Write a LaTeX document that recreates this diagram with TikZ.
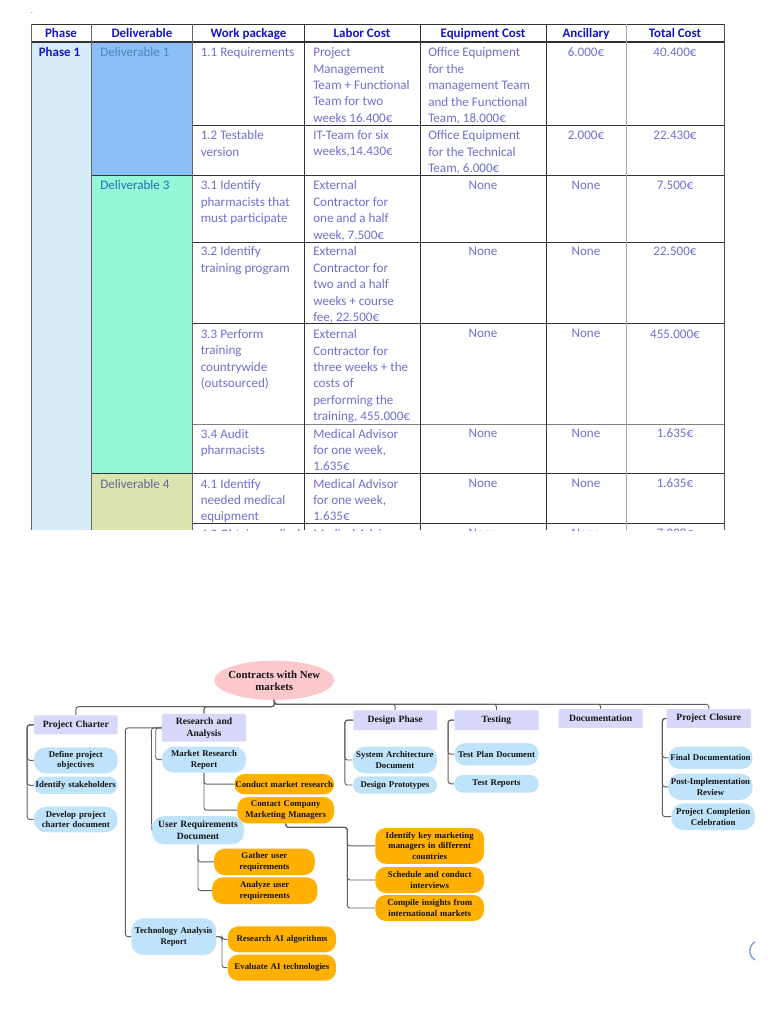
\documentclass[tikz,border=0pt]{standalone}
\usepackage{fontspec}
\setmainfont{Carlito}
\newfontfamily\mapfont{Liberation Serif}[Scale=1]
\usetikzlibrary{shapes.geometric}

\definecolor{headblue}{HTML}{1414C8}
\definecolor{cellblue}{HTML}{7070CC}
\definecolor{phasefill}{HTML}{D6ECF8}
\definecolor{delone}{HTML}{8CC0F4}
\definecolor{delthree}{HTML}{94F7D8}
\definecolor{delfour}{HTML}{DBE4B0}
\definecolor{rootpink}{HTML}{FCC8CC}
\definecolor{lavender}{HTML}{D8D8FA}
\definecolor{skyfill}{HTML}{BFE3FB}
\definecolor{amber}{HTML}{FFB000}
\definecolor{linegray}{HTML}{606060}

\tikzset{
    head/.style={font=\fontsize{9.7}{12}\selectfont\bfseries, text=headblue, inner sep=0pt, anchor=base},
    cell/.style={font=\fontsize{9.8}{12.3}\selectfont, text=cellblue, anchor=north west, align=left, inner sep=0pt},
    mid/.style={font=\fontsize{9.8}{12.3}\selectfont, text=cellblue, anchor=north, inner sep=0pt},
    grid/.style={draw=black!80, line width=0.6pt},
    box/.style={minimum width=#1*0.75pt, text width=#1*0.75pt, align=center, inner sep=0pt, text=black!92,
        font=\mapfont\fontsize{6.6}{8}\selectfont\bfseries},
    task/.style={box=#1, fill=lavender, rounded corners=0.8pt, font=\mapfont\fontsize{7.2}{9}\selectfont\bfseries},
    doc/.style={box=#1, fill=skyfill, rounded corners=9pt},
    work/.style={box=#1, fill=amber, rounded corners=8pt},
    conn/.style={draw=linegray, line width=0.7pt, rounded corners=2pt},
}

\begin{document}
\begin{tikzpicture}[x=0.75pt, y=-0.75pt]
    \useasboundingbox (0, 0) rectangle (768, 1024);

    % table
    \begin{scope}
        \clip (0, 0) rectangle (768, 530);
        \fill[phasefill] (31, 42) rectangle (91.5, 530);
        \fill[delone] (91.5, 42) rectangle (192.5, 175);
        \fill[delthree] (91.5, 175) rectangle (192.5, 473.5);
        \fill[delfour] (91.5, 473.5) rectangle (192.5, 530);

        \draw[grid] (31, 24) -- (724, 24);
        \draw[grid, line width=1.3pt] (31, 42) -- (724, 42);
        \draw[grid] (192.5, 125.5) -- (724, 125.5);
        \draw[grid] (91.5, 175) -- (724, 175);
        \draw[grid] (192.5, 242) -- (724, 242);
        \draw[grid] (192.5, 323.5) -- (724, 323.5);
        \draw[grid, black!50] (192.5, 424) -- (724, 424);
        \draw[grid] (91.5, 473.5) -- (724, 473.5);
        \draw[grid] (192.5, 523) -- (724, 523);

        \draw[grid, black!60] (31, 24) -- (31, 530);
        \draw[grid, black!60] (91.5, 24) -- (91.5, 530);
        \draw[grid, black!60] (192.5, 24) -- (192.5, 530);
        \draw[grid] (304.5, 24) -- (304.5, 530);
        \draw[grid] (420, 24) -- (420, 530);
        \draw[grid] (546, 24) -- (546, 530);
        \draw[grid, black!35, line width=0.8pt] (626.5, 24) -- (626.5, 530);
        \draw[grid, black!70] (724, 24) -- (724, 530);

        \node (dot) at (32, 13) {\tiny .};

        \node[head] (hphase) at (61, 38) {Phase};
        \node[head] (hdel) at (142, 38) {Deliverable};
        \node[head] (hwork) at (248.5, 38) {Work package};
        \node[head] (hlabor) at (362, 38) {Labor Cost};
        \node[head] (hequip) at (483, 38) {Equipment Cost};
        \node[head] (hanc) at (586, 38) {Ancillary};
        \node[head] (htotal) at (675, 38) {Total Cost};

        \node[head] (phase) at (59.5, 57) {Phase 1};
        \node[cell, text=blue!45!cyan!60!black!70] (done) at (100, 47.5) {Deliverable 1};
        \node[cell, text=blue!35!teal!85] (dthree) at (100, 180.5) {Deliverable 3};
        \node[cell, text=blue!35!black!60] (dfour) at (100, 478.7) {Deliverable 4};

        % rows
        \node[cell] (wa) at (200.5, 47.5) {1.1 Requirements};
        \node[cell] (la) at (313, 47.5) {Project\\Management\\Team + Functional\\Team for two\\weeks 16.400€};
        \node[cell] (ea) at (428, 47.5) {Office Equipment\\for the\\management Team\\and the Functional\\Team, 18.000€};
        \node[mid] (aa) at (586, 47.5) {6.000€};
        \node[mid] (ta) at (675, 47.5) {40.400€};

        \node[cell] (wb) at (200.5, 130.3) {1.2 Testable\\version};
        \node[cell] (lb) at (313, 130.3) {IT-Team for six\\weeks,14.430€};
        \node[cell] (eb) at (428, 130.3) {Office Equipment\\for the Technical\\Team, 6.000€};
        \node[mid] (ab) at (586, 130.3) {2.000€};
        \node[mid] (tb) at (675, 130.3) {22.430€};

        \node[cell] (wc) at (200.5, 180.5) {3.1 Identify\\pharmacists that\\must participate};
        \node[cell] (lc) at (313, 180.5) {External\\Contractor for\\one and a half\\week, 7.500€};
        \node[mid] (ec) at (483, 180.5) {None};
        \node[mid] (ac) at (586, 180.5) {None};
        \node[mid] (tc) at (675, 180.5) {7.500€};

        \node[cell] (wd) at (200.5, 246.5) {3.2 Identify\\training program};
        \node[cell] (ld) at (313, 246.5) {External\\Contractor for\\two and a half\\weeks + course\\fee, 22.500€};
        \node[mid] (ed) at (483, 246.5) {None};
        \node[mid] (ad) at (586, 246.5) {None};
        \node[mid] (td) at (675, 246.5) {22.500€};

        \node[cell] (we) at (200.5, 329.3) {3.3 Perform\\training\\countrywide\\(outsourced)};
        \node[cell] (le) at (313, 329.3) {External\\Contractor for\\three weeks + the\\costs of\\performing the\\training, 455.000€};
        \node[mid] (ee) at (483, 329.3) {None};
        \node[mid] (ae) at (586, 329.3) {None};
        \node[mid] (te) at (675, 329.3) {455.000€};

        \node[cell] (wf) at (200.5, 428.7) {3.4 Audit\\pharmacists};
        \node[cell] (lf) at (313, 428.7) {Medical Advisor\\for one week,\\1.635€};
        \node[mid] (ef) at (483, 428.7) {None};
        \node[mid] (af) at (586, 428.7) {None};
        \node[mid] (tf) at (675, 428.7) {1.635€};

        \node[cell] (wg) at (200.5, 478.7) {4.1 Identify\\needed medical\\equipment};
        \node[cell] (lg) at (313, 478.7) {Medical Advisor\\for one week,\\1.635€};
        \node[mid] (eg) at (483, 478.7) {None};
        \node[mid] (ag) at (586, 478.7) {None};
        \node[mid] (tg) at (675, 478.7) {1.635€};

        \node[cell] (wh) at (200.5, 528.7) {4.2 Obtain medical};
        \node[cell] (lh) at (313, 528.7) {Medical Advisor};
        \node[mid] (eh) at (483, 528.7) {None};
        \node[mid] (ah) at (586, 528.7) {None};
        \node[mid] (th) at (675, 528.7) {7.000€};
    \end{scope}

    % map
    \node[ellipse, fill=rootpink, minimum width=90pt, minimum height=29.5pt, inner xsep=-5pt, inner ysep=-2pt, align=center, text=black!92,
        font=\mapfont\fontsize{8.1}{9}\selectfont\bfseries] (root) at (274.3, 680.3) {Contracts with New\\markets};

    \node[task=83.7, minimum height=14.3pt] (charter) at (75.8, 724.8) {Project Charter};
    \node[task=84, minimum height=20.8pt] (research) at (204, 727.8) {Research and\\Analysis};
    \node[task=83.7, minimum height=14.8pt] (design) at (395.2, 720.2) {Design Phase};
    \node[task=84.4, minimum height=14.8pt] (testing) at (496.5, 720.2) {Testing};
    \node[task=84, minimum height=14.2pt] (documentation) at (600.7, 718.5) {Documentation};
    \node[task=84.3, minimum height=14.2pt] (closure) at (708.8, 718.5) {Project Closure};

    \node[doc=83.7, minimum height=19.5pt] (objectives) at (75.8, 760.3) {Define project\\objectives};
    \node[doc=83.7, minimum height=13pt, rounded corners=6.4pt] (stakeholders) at (75.8, 785.3) {Identify stakeholders};
    \node[doc=83.7, minimum height=19.2pt] (develop) at (75.8, 819.5) {Develop project\\charter document};

    \node[doc=84, minimum height=19.5pt] (market) at (204, 759.7) {Market Research\\Report};
    \node[work=99.7, minimum height=15.2pt, rounded corners=7.5pt] (conduct) at (284.2, 784.2) {Conduct market research};
    \node[work=96.7, minimum height=19.8pt] (contact) at (285.7, 810.2) {Contact Company\\Marketing Managers};
    \node[doc=92, minimum height=21.2pt, font=\mapfont\fontsize{7.2}{9}\selectfont\bfseries] (user) at (198, 830.2) {User Requirements\\Document};
    \node[work=100.7, minimum height=19.8pt] (gather) at (264.4, 861.9) {Gather user\\requirements};
    \node[work=105.3, minimum height=20pt] (analyze) at (264.7, 890.7) {Analyze user\\requirements};
    \node[work=108.7, minimum height=26.8pt] (keymgr) at (429.7, 845.9) {Identify key marketing\\managers in different\\countries};
    \node[work=108.7, minimum height=19.5pt] (schedule) at (429.7, 880) {Schedule and conduct\\interviews};
    \node[work=108.7, minimum height=19.5pt] (compile) at (429.7, 908) {Compile insights from\\international markets};
    \node[doc=84.7, minimum height=27.5pt] (technology) at (173.7, 936.7) {Technology Analysis\\Report};
    \node[work=108.3, minimum height=19.5pt] (algorithms) at (281.9, 939.3) {Research AI algorithms};
    \node[work=108.3, minimum height=19.5pt] (evaluate) at (281.9, 967.7) {Evaluate AI technologies};

    \node[doc=84.3, minimum height=20pt] (system) at (394.9, 760) {System Architecture\\Document};
    \node[doc=84.3, minimum height=13pt, rounded corners=6.4pt] (prototypes) at (394.9, 785) {Design Prototypes};
    \node[doc=84.4, minimum height=16.7pt, rounded corners=8.2pt] (plan) at (496.5, 754.2) {Test Plan Document};
    \node[doc=84.4, minimum height=13.3pt, rounded corners=6.5pt] (reports) at (496.5, 783.8) {Test Reports};
    \node[doc=84.4, minimum height=16.7pt, rounded corners=8.2pt] (final) at (710.5, 757.8) {Final Documentation};
    \node[doc=84.4, minimum height=19.7pt] (post) at (710.5, 786.8) {Post-Implementation\\Review};
    \node[doc=83.7, minimum height=20pt] (celebration) at (713.2, 816.7) {Project Completion\\Celebration};

    \coordinate (jleft) at (274.3, 706.7);
    \coordinate (jright) at (274.3, 704.3);
    \coordinate (jcontact) at (347.3, 827.3);

    \draw[conn] (root.south) |- (jleft) -| (charter.north);
    \draw[conn, line width=0.9pt] (root.south) |- (jleft) -| (research.north);
    \draw[conn] (root.south) |- (jright) -| (design.north);
    \draw[conn] (root.south) |- (jright) -| (testing.north);
    \draw[conn] (root.south) |- (jright) -| (documentation.north);
    \draw[conn] (root.south) |- (jright) -| (closure.north);

    \draw[conn] (charter.west) -- ++(-6.5, 0) |- (objectives.west);
    \draw[conn] (charter.west) -- ++(-6.5, 0) |- (stakeholders.west);
    \draw[conn] (charter.west) -- ++(-6.5, 0) |- (develop.west);

    \draw[conn] (research.west) -- ++(-6, 0) |- (market.west);
    \draw[conn] (research.west) -- ++(-10.3, 0) -- (user.west);
    \draw[conn] (research.west) -- ++(-36.3, 0) |- (technology.west);

    \draw[conn] (market.south) |- (conduct.west);
    \draw[conn] (market.south) |- (contact.west);

    \draw[conn] (contact.south) |- (jcontact) |- (keymgr.west);
    \draw[conn] (contact.south) |- (jcontact) |- (schedule.west);
    \draw[conn] (contact.south) |- (jcontact) |- (compile.west);

    \draw[conn] (user.south) |- (gather.west);
    \draw[conn] (user.south) |- (analyze.west);

    \draw[conn] (technology.east) -- ++(5.7, 0) |- (algorithms.west);
    \draw[conn] (technology.east) -- ++(5.7, 0) |- (evaluate.west);

    \draw[conn] (design.west) -- ++(-8.3, 0) |- (system.west);
    \draw[conn] (design.west) -- ++(-8.3, 0) |- (prototypes.west);
    \draw[conn] (testing.west) -- ++(-6, 0) |- (plan.west);
    \draw[conn] (testing.west) -- ++(-6, 0) |- (reports.west);
    \draw[conn] (closure.west) -- ++(-4, 0) |- (final.west);
    \draw[conn] (closure.west) -- ++(-4, 0) |- (post.west);
    \draw[conn] (closure.west) -- ++(-4, 0) |- (celebration.west);

    % cut off at the right
    \draw[cyan!45!blue!55, line width=1pt] (755, 960) arc[start angle=120, end angle=240, radius=10.5];
\end{tikzpicture}
\end{document}
